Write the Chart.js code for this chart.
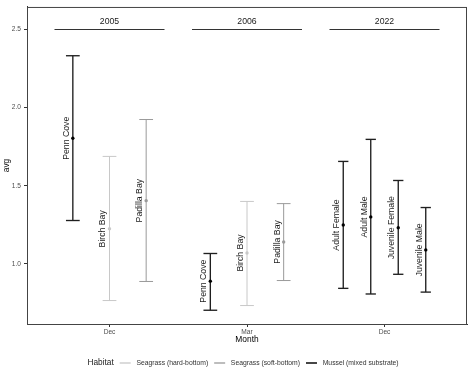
<!DOCTYPE html>
<html>
<head>
<meta charset="utf-8">
<script src="https://cdn.jsdelivr.net/npm/chart.js@4.4.1/dist/chart.umd.min.js"></script>
<style>
  html, body { margin: 0; padding: 0; background: #fff; }
  #wrap { width: 474px; height: 379px; }
</style>
</head>
<body>
<div id="wrap"><canvas id="avgChart" width="474" height="379"></canvas></div>
<script>
// values
const years = ["2005", "2006", "2022"]
const monthLabels = ["Dec", "Mar", "Dec"]
const habitats = ["Seagrass (hard-bottom)", "Seagrass (soft-bottom)", "Mussel (mixed substrate)"]
const siteNames = ["Penn Cove", "Birch Bay", "Padilla Bay", "Penn Cove", "Birch Bay", "Padilla Bay",
	"Adult Female", "Adult Male", "Juvenile Female", "Juvenile Male"]
const siteYear = [0, 0, 0, 1, 1, 1, 2, 2, 2, 2]
const siteHabitat = [2, 0, 1, 2, 0, 1, 2, 2, 2, 2]
const avg = [1.804, 1.225, 1.405, 0.89, 1.07, 1.141, 1.249, 1.301, 1.232, 1.09]
const lower = [1.278, 0.766, 0.888, 0.704, 0.734, 0.894, 0.844, 0.808, 0.934, 0.82]
const upper = [2.332, 1.688, 1.924, 1.067, 1.4, 1.386, 1.656, 1.797, 1.534, 1.361]
const yTicks = [1.0, 1.5, 2.0, 2.5]
const bracketLevel = 2.5

const habitatColors = ["#c8c8c8", "#9a9a9a", "#1f1f1f"]
const habitatWidths = [1, 1, 1.35]

Chart.defaults.font.family = "'Liberation Sans', Arial, sans-serif"

// dodge positions (width 0.8) inside each month slot
const groupSize = years.map((_, g) => siteYear.filter((y) => y === g).length)
const xPos = siteNames.map((_, i) => {
	const g = siteYear[i]
	const k = siteYear.slice(0, i).filter((y) => y === g).length
	const n = groupSize[g]
	return g + 1 + (k - (n - 1) / 2) * (0.8 / n)
})

const capRadius = (ctx) => {
	const p = ctx.raw
	if (!p || p.y === null) return 0
	const s = ctx.chart.scales.x
	const half = 0.3 / groupSize[siteYear[p.i]] / 2
	return s.getPixelForValue(p.x + half) - s.getPixelForValue(p.x)
}

const whiskerSets = habitats.map((h, k) => {
	const data = []
	siteNames.forEach((_, i) => {
		if (siteHabitat[i] !== k) return
		data.push({ x: xPos[i], y: lower[i], i })
		data.push({ x: xPos[i], y: upper[i], i })
		data.push({ x: xPos[i], y: null, i })
	})
	return {
		label: h,
		data,
		showLine: true,
		spanGaps: false,
		borderColor: habitatColors[k],
		borderWidth: habitatWidths[k],
		pointStyle: "line",
		pointRadius: capRadius,
		pointBorderColor: habitatColors[k],
		pointBorderWidth: habitatWidths[k],
		order: 2,
	}
})

const meanSets = habitats.map((h, k) => ({
	label: h + " mean",
	data: siteNames.map((_, i) => ({ x: xPos[i], y: avg[i], i })).filter((p) => siteHabitat[p.i] === k),
	pointRadius: 1.7,
	pointBackgroundColor: k === 2 ? "#000" : habitatColors[k],
	pointBorderWidth: 0,
	order: 1,
}))

const bracketData = []
years.forEach((_, g) => {
	bracketData.push({ x: g + 0.6, y: bracketLevel })
	bracketData.push({ x: g + 1.4, y: bracketLevel })
	bracketData.push({ x: g + 1.5, y: null })
})
const bracketSet = {
	label: "bracket",
	data: bracketData,
	showLine: true,
	spanGaps: false,
	borderColor: "#333",
	borderWidth: 1.1,
	pointRadius: 0,
}

const decorations = {
	id: "decorations",
	afterDatasetsDraw(chart) {
		const { ctx, chartArea, scales } = chart
		ctx.save()
		// panel border
		ctx.strokeStyle = "#444"
		ctx.lineWidth = 1
		ctx.strokeRect(chartArea.left + 0.5, chartArea.top + 0.5, chartArea.width - 1, chartArea.height)

		// site labels, rotated
		ctx.fillStyle = "#1a1a1a"
		ctx.font = "8.7px 'Liberation Sans', Arial, sans-serif"
		ctx.textAlign = "center"
		ctx.textBaseline = "middle"
		siteNames.forEach((name, i) => {
			const px = scales.x.getPixelForValue(xPos[i])
			const py = scales.y.getPixelForValue(avg[i])
			ctx.save()
			ctx.translate(px - 6.5, py)
			ctx.rotate(-Math.PI / 2)
			ctx.fillText(name, 0, 0)
			ctx.restore()
		})

		// year labels above the brackets
		years.forEach((yr, g) => {
			ctx.fillText(yr, scales.x.getPixelForValue(g + 1), scales.y.getPixelForValue(bracketLevel) - 8)
		})

		// legend
		const ly = 363
		ctx.textBaseline = "middle"
		ctx.textAlign = "left"
		ctx.font = "8.3px 'Liberation Sans', Arial, sans-serif"
		const titleW = ctx.measureText("Habitat").width
		ctx.font = "6.8px 'Liberation Sans', Arial, sans-serif"
		const itemW = habitats.map((h) => ctx.measureText(h).width)
		const keyLen = 11
		const total = titleW + habitats.length * (6 + keyLen + 5.7) + itemW.reduce((a, b) => a + b, 0) + (habitats.length - 1) * 6
		let x = 249 - total / 2
		ctx.fillStyle = "#1a1a1a"
		ctx.font = "8.3px 'Liberation Sans', Arial, sans-serif"
		ctx.fillText("Habitat", x, ly)
		x += titleW + 6
		ctx.font = "6.8px 'Liberation Sans', Arial, sans-serif"
		habitats.forEach((h, k) => {
			const ds = chart.data.datasets[k]
			ctx.strokeStyle = ds.borderColor
			ctx.lineWidth = ds.borderWidth + 0.3
			ctx.beginPath()
			ctx.moveTo(x, ly)
			ctx.lineTo(x + keyLen, ly)
			ctx.stroke()
			x += keyLen + 5.7
			ctx.fillStyle = "#333"
			ctx.fillText(h, x, ly)
			x += itemW[k] + 6
		})
		ctx.restore()
	},
}

new Chart(document.getElementById("avgChart").getContext("2d"), {
	type: "scatter",
	data: { datasets: [...whiskerSets, ...meanSets, bracketSet] },
	options: {
		responsive: false,
		animation: false,
		devicePixelRatio: 1,
		layout: { padding: { left: 0, top: 4, right: 7, bottom: 30 } },
		plugins: { legend: { display: false }, tooltip: { enabled: false } },
		scales: {
			x: {
				type: "linear",
				min: 0.4,
				max: 3.6,
				afterBuildTicks: (s) => {
					s.ticks = monthLabels.map((_, i) => ({ value: i + 1 }))
				},
				afterFit: (s) => {
					s.height = 25
				},
				ticks: {
					callback: (v, i) => monthLabels[i],
					font: { size: 6.6 },
					color: "#4d4d4d",
					padding: 1,
					maxRotation: 0,
					autoSkip: false,
				},
				grid: { drawOnChartArea: false, tickLength: 3, color: "#333" },
				border: { color: "#333" },
				title: { display: true, text: "Month", font: { size: 8.4 }, color: "#000", padding: { top: 0, bottom: 4 } },
			},
			y: {
				type: "linear",
				min: 0.616,
				max: 2.644,
				afterBuildTicks: (s) => {
					s.ticks = yTicks.map((v) => ({ value: v }))
				},
				afterFit: (s) => {
					s.width = 27
				},
				ticks: {
					callback: (v) => v.toFixed(1),
					font: { size: 6.6 },
					color: "#4d4d4d",
					padding: 3,
				},
				grid: { drawOnChartArea: false, tickLength: 3, color: "#333" },
				border: { color: "#333" },
				title: { display: true, text: "avg", font: { size: 8.4 }, color: "#000", padding: { top: 2, bottom: 0 } },
			},
		},
	},
	plugins: [decorations],
})
</script>
</body>
</html>
